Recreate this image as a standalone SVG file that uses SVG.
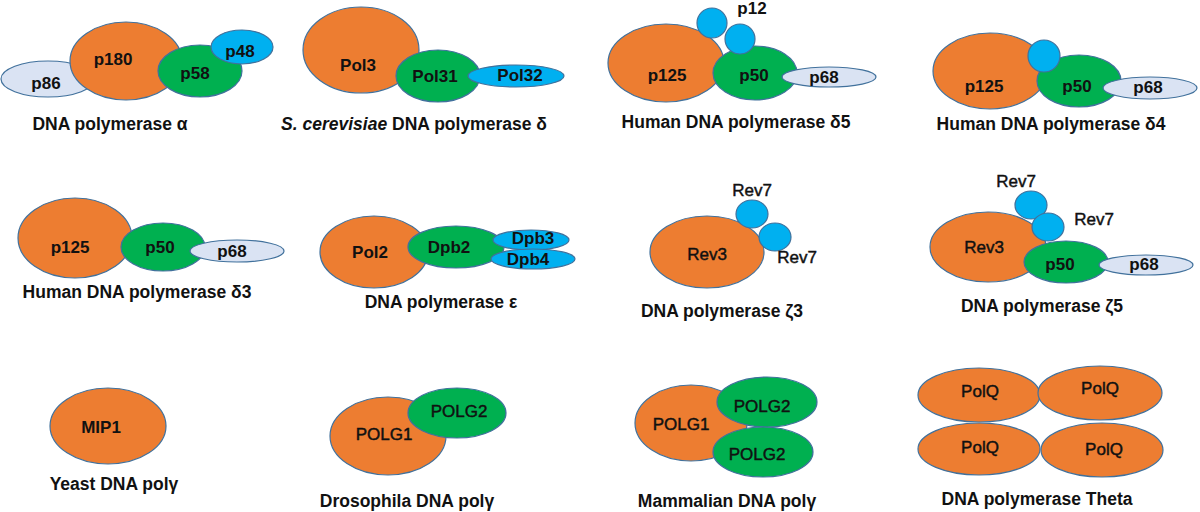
<svg xmlns="http://www.w3.org/2000/svg" width="1200" height="512" viewBox="0 0 1200 512">
<style>
ellipse,circle{stroke:#41719C;stroke-width:1.2}
.o{fill:#ED7D31}
.g{fill:#00B050}
.b{fill:#00B0F0}
.l{fill:#DAE3F3}
text{font-family:"Liberation Sans",Arial,sans-serif;font-size:17px;fill:#111;text-anchor:middle}
.n{font-weight:bold}
.r{font-weight:normal;stroke:#111;stroke-width:0.45}
.t{font-weight:bold;font-size:17.5px}
</style>
<rect width="1200" height="512" fill="#fff"/>

<g id="pol-alpha">
  <g id="a-p86"><ellipse class="l" cx="48" cy="79" rx="47" ry="18"/><text class="n" x="46" y="89">p86</text></g>
  <g id="a-p180"><ellipse class="o" cx="126" cy="61" rx="56" ry="39"/><text class="n" x="113" y="65">p180</text></g>
  <g id="a-p58"><ellipse class="g" cx="200" cy="71" rx="42" ry="26"/><text class="n" x="195" y="79">p58</text></g>
  <g id="a-p48"><ellipse class="b" cx="242" cy="47" rx="31" ry="17"/><text class="n" x="240" y="57">p48</text></g>
  <text class="t" x="110" y="130">DNA polymerase α</text>
</g>

<g id="pol-delta-sc">
  <g id="sc-pol3"><ellipse class="o" cx="361" cy="50" rx="58" ry="43"/><text class="n" x="358" y="71">Pol3</text></g>
  <g id="sc-pol31"><ellipse class="g" cx="438" cy="76" rx="42" ry="26"/><text class="n" x="435" y="82">Pol31</text></g>
  <g id="sc-pol32"><ellipse class="b" cx="516" cy="76" rx="48" ry="11"/><text class="n" x="520" y="81">Pol32</text></g>
  <text class="t" x="414" y="130"><tspan font-style="italic">S. cerevisiae</tspan> DNA polymerase δ</text>
</g>

<g id="pol-delta5">
  <g id="d5-p125"><ellipse class="o" cx="666" cy="63" rx="58" ry="39"/><text class="n" x="667" y="81" font-size="20">p125</text></g>
  <g id="d5-p50"><ellipse class="g" cx="755" cy="73" rx="42" ry="27"/><text class="n" x="754" y="81" font-size="19">p50</text></g>
  <g id="d5-p68"><ellipse class="l" cx="829" cy="77" rx="47" ry="10"/><text class="n" x="824" y="83" font-size="18">p68</text></g>
  <g id="d5-p12a"><circle class="b" cx="712" cy="23" r="15"/></g>
  <g id="d5-p12b"><circle class="b" cx="740" cy="39" r="15"/></g>
  <text class="n" x="752" y="14" font-size="18">p12</text>
  <text class="t" x="736" y="128">Human DNA polymerase δ5</text>
</g>

<g id="pol-delta4">
  <g id="d4-p125"><ellipse class="o" cx="990" cy="71" rx="57" ry="38"/><text class="n" x="984" y="92">p125</text></g>
  <g id="d4-p50"><ellipse class="g" cx="1079" cy="81" rx="42" ry="26"/><text class="n" x="1077" y="92">p50</text></g>
  <g id="d4-p68"><ellipse class="l" cx="1150" cy="88" rx="47" ry="11"/><text class="n" x="1148" y="93">p68</text></g>
  <g id="d4-p12"><circle class="b" cx="1044" cy="56" r="16"/></g>
  <text class="t" x="1051" y="130">Human DNA polymerase δ4</text>
</g>

<g id="pol-delta3">
  <g id="d3-p125"><ellipse class="o" cx="75" cy="238" rx="57" ry="40"/><text class="n" x="70" y="253">p125</text></g>
  <g id="d3-p50"><ellipse class="g" cx="163" cy="247" rx="42" ry="24"/><text class="n" x="160" y="253">p50</text></g>
  <g id="d3-p68"><ellipse class="l" cx="237" cy="251" rx="47" ry="11"/><text class="n" x="232" y="257">p68</text></g>
  <text class="t" x="137" y="298">Human DNA polymerase δ3</text>
</g>

<g id="pol-epsilon">
  <g id="e-pol2"><ellipse class="o" cx="374" cy="252" rx="54" ry="36"/><text class="n" x="370" y="258">Pol2</text></g>
  <g id="e-dpb2"><ellipse class="g" cx="456" cy="247" rx="48" ry="21"/><text class="n" x="449" y="253">Dpb2</text></g>
  <g id="e-dpb3"><ellipse class="b" cx="531" cy="240" rx="38" ry="10"/><text class="n" x="533" y="244">Dpb3</text></g>
  <g id="e-dpb4"><ellipse class="b" cx="533" cy="259" rx="42" ry="10"/><text class="n" x="528" y="265">Dpb4</text></g>
  <text class="t" x="441" y="308">DNA polymerase ε</text>
</g>

<g id="pol-zeta3">
  <g id="z3-rev3"><ellipse class="o" cx="707" cy="252" rx="57" ry="36"/><text class="r" x="707" y="260">Rev3</text></g>
  <g id="z3-rev7a"><ellipse class="b" cx="752" cy="214" rx="16" ry="14"/><text class="r" x="752" y="196">Rev7</text></g>
  <g id="z3-rev7b"><ellipse class="b" cx="775" cy="237" rx="16" ry="14"/><text class="r" x="797" y="263">Rev7</text></g>
  <text class="t" x="722" y="317">DNA polymerase ζ3</text>
</g>

<g id="pol-zeta5">
  <g id="z5-rev3"><ellipse class="o" cx="988" cy="247" rx="58" ry="35"/><text class="r" x="984" y="253">Rev3</text></g>
  <g id="z5-p50"><ellipse class="g" cx="1066" cy="262" rx="42" ry="21"/><text class="n" x="1060" y="270">p50</text></g>
  <g id="z5-p68"><ellipse class="l" cx="1146" cy="265" rx="47" ry="10"/><text class="n" x="1144" y="270">p68</text></g>
  <g id="z5-rev7a"><ellipse class="b" cx="1031" cy="205" rx="16" ry="14"/><text class="r" x="1016" y="187">Rev7</text></g>
  <g id="z5-rev7b"><ellipse class="b" cx="1048" cy="227" rx="16" ry="14"/><text class="r" x="1094" y="225">Rev7</text></g>
  <text class="t" x="1042" y="312">DNA polymerase ζ5</text>
</g>

<g id="pol-gamma-yeast">
  <g id="y-mip1"><ellipse class="o" cx="108" cy="426" rx="58" ry="38"/><text class="n" x="101" y="433">MIP1</text></g>
  <text class="t" x="114" y="490">Yeast DNA polγ</text>
</g>

<g id="pol-gamma-dros">
  <g id="dr-polg1"><ellipse class="o" cx="388" cy="436" rx="58" ry="39"/><text class="r" x="384" y="440">POLG1</text></g>
  <g id="dr-polg2"><ellipse class="g" cx="457" cy="413" rx="49" ry="25"/><text class="r" x="459" y="417">POLG2</text></g>
  <text class="t" x="407" y="507">Drosophila DNA polγ</text>
</g>

<g id="pol-gamma-mamm">
  <g id="m-polg1"><ellipse class="o" cx="691" cy="423" rx="56" ry="38"/><text class="r" x="681" y="430">POLG1</text></g>
  <g id="m-polg2a"><ellipse class="g" cx="767" cy="402" rx="50" ry="25"/><text class="r" x="762" y="412">POLG2</text></g>
  <g id="m-polg2b"><ellipse class="g" cx="763" cy="452" rx="50" ry="25"/><text class="r" x="757" y="460">POLG2</text></g>
  <text class="t" x="727" y="507">Mammalian DNA polγ</text>
</g>

<g id="pol-theta">
  <g id="th-q1"><ellipse class="o" cx="979" cy="395" rx="61" ry="27"/><text class="r" x="980" y="397">PolQ</text></g>
  <g id="th-q2"><ellipse class="o" cx="1100" cy="393" rx="62" ry="27"/><text class="r" x="1100" y="394">PolQ</text></g>
  <g id="th-q3"><ellipse class="o" cx="979" cy="449" rx="61" ry="26"/><text class="r" x="980" y="453">PolQ</text></g>
  <g id="th-q4"><ellipse class="o" cx="1102" cy="450" rx="61" ry="27"/><text class="r" x="1104" y="455">PolQ</text></g>
  <text class="t" x="1037" y="505">DNA polymerase Theta</text>
</g>
</svg>
